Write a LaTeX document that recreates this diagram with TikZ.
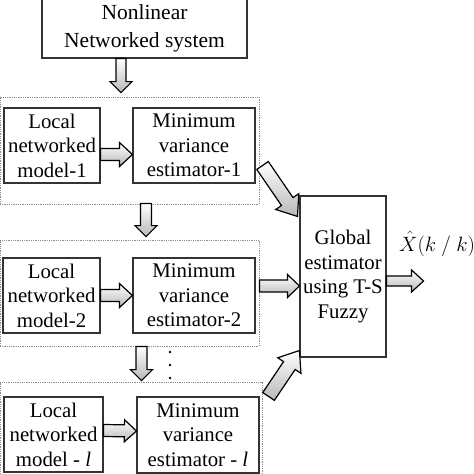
\documentclass[tikz,border=0pt]{standalone}
\usepackage{fontspec}
\setmainfont{Liberation Serif}
\usetikzlibrary{calc}
\tikzset{
  x=1pt, y=1pt,
  box/.style={draw=black!80, line width=1.1pt, inner sep=0pt, align=center,
    font=\fontsize{20.8}{24.5}\selectfont},
  grp/.style={draw=black!45, densely dotted, line width=0.8pt, inner sep=0pt},
  bsize/.code args={#1/#2/#3}{\def\baS{#1}\def\baH{#2}\def\baL{#3}},
  bsize=6/12/13,
  barrow/.style={draw=black, line width=1.2pt, line join=miter,
    top color=white, bottom color=black!28,
    to path={
      let \p1=(\tikztostart), \p2=(\tikztotarget),
          \n1={atan2(\y2-\y1,\x2-\x1)},
          \n2={veclen(\x2-\x1,\y2-\y1)-\baL}
      in ($(\p1)+(\n1+90:\baS pt)$)
      -- ($(\p1)+(\n1:\n2)+(\n1+90:\baS pt)$)
      -- ($(\p1)+(\n1:\n2)+(\n1+90:\baH pt)$)
      -- (\p2)
      -- ($(\p1)+(\n1:\n2)+(\n1-90:\baH pt)$)
      -- ($(\p1)+(\n1:\n2)+(\n1-90:\baS pt)$)
      -- ($(\p1)+(\n1-90:\baS pt)$)
      -- cycle}},
}
\begin{document}
\begin{tikzpicture}
\clip (0,0) rectangle (474,-474);
\fill[white] (0,0) rectangle (474,-474);

% group boxes
\node[grp, minimum width=259, minimum height=107] (g1) at (129.5,-150.5) {};
\node[grp, minimum width=259, minimum height=106] (g2) at (129.5,-293) {};
\node[grp, minimum width=262, minimum height=100] (g3) at (131,-432) {};

% boxes
\node[box, minimum width=205, minimum height=70, font=\fontsize{21.5}{25}\selectfont] (top) at (144.5,-23) {\rule{0pt}{26pt}Nonlinear\\[3pt]Networked system};
\node[box, minimum width=96, minimum height=75] (lm1) at (52,-145.5) {Local\\networked\\model-1};
\node[box, minimum width=122, minimum height=75] (mv1) at (194,-145.5) {Minimum\\variance\\estimator-1};
\node[box, minimum width=97, minimum height=75] (lm2) at (51.5,-295.5) {Local\\networked\\model-2};
\node[box, minimum width=122, minimum height=75] (mv2) at (194,-295.5) {Minimum\\variance\\estimator-2};
\node[box, minimum width=99, minimum height=75] (lml) at (53.5,-434.5) {Local\\networked\\model - \textit{l}};
\node[box, minimum width=122, minimum height=76] (mvl) at (198,-435) {Minimum\\variance\\estimator - \textit{l}};
\node[box, minimum width=86, minimum height=161] (glob) at (343,-276.5) {Global\\estimator\\using T-S\\Fuzzy};

\node[font=\fontsize{21}{24}\selectfont, inner sep=1pt] (xhat) at (437,-244) {$\hat{X}(k\ /\ k)$};

% dots
\foreach \yy in {-352,-365,-378} \fill (170,\yy) circle (1.3);

% arrows
\draw[barrow, bsize=5/11/11] ([xshift=-23.5]top.south) to ([xshift=-8.5,yshift=4]g1.north);
\draw[barrow, bsize=6/12/13] ([yshift=-9]lm1.east) to ([yshift=-9]mv1.west);
\draw[barrow, bsize=7/14/18] ($(mv1.east)+(7,-20)$) to ($(glob.north west)+(-2,-21)$);
\draw[barrow, bsize=5.5/11/11] ([xshift=16.5,yshift=1]g1.south) to ([xshift=16.5,yshift=3]g2.north);
\draw[barrow, bsize=6/12/13] (lm2.east) to (mv2.west);
\draw[barrow, bsize=6/11.5/12] ([yshift=7]g2.east) to ([yshift=-9.5]glob.west);
\draw[barrow, bsize=5.5/11/11] ([xshift=12,yshift=0]g2.south) to ([xshift=10.5,yshift=1]g3.north);
\draw[barrow, bsize=6/11/12] ([yshift=4]lml.east) to ([yshift=4]mvl.west);
\draw[barrow, bsize=7/14/18] ($(mvl.north east)+(9,0)$) to ($(glob.south west)+(0,7)$);
\draw[barrow, bsize=5/11/12] ([yshift=-4.5]glob.east) to ([xshift=37,yshift=-4.5]glob.east);
\end{tikzpicture}
\end{document}
